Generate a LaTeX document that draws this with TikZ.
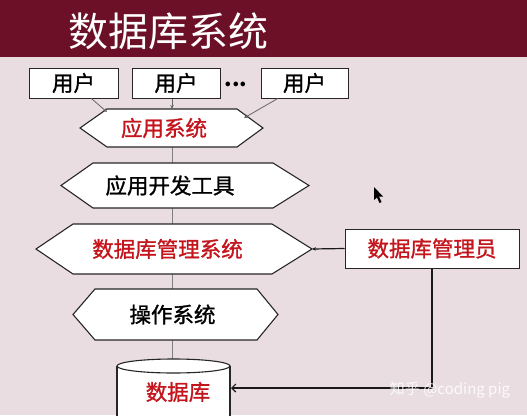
\documentclass[tikz,border=0pt]{standalone}
\usepackage{fontspec}
\setmainfont{Noto Sans CJK SC}
\newfontfamily\medfont{Noto Sans CJK SC}[FakeBold=1.2]
\usetikzlibrary{arrows.meta}
\definecolor{bgpink}{HTML}{EADDE1}
\definecolor{titlered}{HTML}{6B1027}
\definecolor{txtred}{HTML}{C4141C}
\begin{document}
\begin{tikzpicture}[x=1pt,y=-1pt,
  lbl/.style={font=\fontsize{21.5}{21.5}\selectfont\medfont,inner sep=0pt},
  redlbl/.style={lbl,text=txtred},
  box/.style={draw=black!85,line width=1pt,fill=white,inner sep=0pt},
  hexline/.style={draw=black!85,line width=1.1pt,fill=white},
  vline/.style={draw=black!50,line width=1pt},
  uarrow/.style={draw=black!60,line width=0.8pt,-{Stealth[length=4pt,width=3.5pt]}},
  karrow/.style={draw=black!90,line width=1.2pt},
  titletext/.style={font=\fontsize{40}{40}\selectfont,text=white,inner sep=0pt}]
\useasboundingbox (0,0) rectangle (527,415);
\clip (0,0) rectangle (527,415);
% background
\fill[bgpink] (0,0) rectangle (527,415);
\fill[titlered] (0,0) rectangle (527,57);
\node[titletext] (title) at (168,31) {数据库系统};
% vertical spine behind the layers
\coordinate (vtop) at (172,128);
\coordinate (vbot) at (172,366);
\draw[vline] (vtop) -- (vbot);
% hexagons
\draw[hexline] (80,128) -- (107,109) -- (237,109) -- (263,128) -- (237,147) -- (107,147) -- cycle;
\draw[hexline] (61,185.5) -- (93,163) -- (273,163) -- (309,185.5) -- (273,208) -- (93,208) -- cycle;
\draw[hexline] (36,249) -- (73,224) -- (272,224) -- (312,249) -- (272,274) -- (73,274) -- cycle;
\draw[hexline] (73,314.5) -- (95,289) -- (257,289) -- (278,314.5) -- (257,340) -- (95,340) -- cycle;
% cylinder
\draw[hexline] (117,366) -- (117,430) -- (230,430) -- (230,366);
\draw[hexline] (173.5,366) ellipse [x radius=56.5, y radius=7];
% users
\node[box,lbl,minimum width=89pt,minimum height=30pt] (user1) at (73.5,83) {用户};
\node[box,lbl,minimum width=88pt,minimum height=30pt] (user2) at (176,83) {用户};
\node[box,lbl,minimum width=87pt,minimum height=30pt] (user3) at (304.5,83) {用户};
\node[font=\fontsize{21.5}{21.5}\selectfont\bfseries,inner sep=0pt] (dots) at (236,84) {...};
% layer texts
\node[redlbl] (app) at (164,128) {应用系统};
\node[lbl] (tools) at (170,185.5) {应用开发工具};
\node[redlbl] (dbms) at (167.5,249) {数据库管理系统};
\node[lbl] (os) at (172.5,314.5) {操作系统};
\node[redlbl] (db) at (178,392) {数据库};
\node[box,redlbl,minimum width=174pt,minimum height=39pt] (admin) at (432,248.5) {数据库管理员};
% connectors
\coordinate (appin1) at (107,112);
\coordinate (appin2) at (172,109);
\coordinate (appin3) at (244,118);
\coordinate (dbmsR) at (312,249);
\coordinate (dbR) at (231,388);
\draw[uarrow] (user1) -- (appin1);
\draw[uarrow] (appin2 |- user2.south) -- (appin2);
\draw[uarrow] (user3) -- (appin3);
\draw[karrow,-{Stealth[length=4pt,width=3.5pt]}] (admin.west) -- (dbmsR);
\draw[karrow,-{Straight Barb[length=4pt,width=8pt]}] (admin.south) |- (dbR);
% cursor
\fill[black] (374,187) -- (374,200) -- (377,197.5) -- (379.5,203) -- (381.5,202) -- (379,196.5) -- (383,196.5) -- cycle;
% watermark
\node[font=\fontsize{15}{15}\selectfont,text=white,opacity=0.85,inner sep=0pt] (wm) at (450,390) {知乎 @coding pig};
\end{tikzpicture}
\end{document}
